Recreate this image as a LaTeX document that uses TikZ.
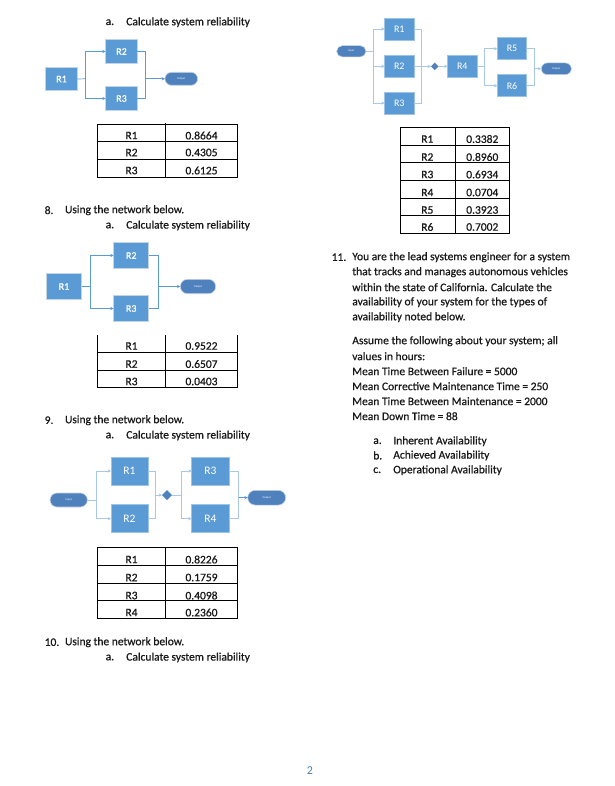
\documentclass[tikz,border=0pt]{standalone}
\usepackage{fontspec}
\setmainfont{Carlito}
\newfontfamily\semifont{Carlito}[FakeBold=0.7]
\usetikzlibrary{arrows.meta,shapes.geometric,shapes.misc}
\definecolor{blk}{HTML}{5B9BD5}
\definecolor{blkedge}{HTML}{C5D3E6}
\definecolor{pill}{HTML}{4F81BD}
\definecolor{wire}{HTML}{5B9BD5}
\definecolor{palewire}{HTML}{A9C8E6}
\definecolor{pagenum}{HTML}{4A7AAE}
\tikzset{
  block/.style={draw=blkedge,line width=0.7pt,fill=blk,text=white,inner sep=0pt,outer sep=0pt,font=\semifont\fontsize{10}{12}\selectfont},
  blockb/.style={block,draw=blk!60!white,font=\fontsize{11.5}{13}\selectfont},
  blockc/.style={block,draw=blk!60!white,font=\fontsize{10}{12}\selectfont},
  terminal/.style={rounded rectangle,draw=blkedge,line width=0.6pt,fill=pill,text=white,inner sep=0pt,outer sep=0pt,font=\fontsize{2.8}{3}\selectfont},
  junction/.style={diamond,fill=pill,draw=none,inner sep=0pt,outer sep=0pt},
  wirea/.style={draw=wire,line width=0.7pt},
  wireb/.style={draw=palewire,line width=0.8pt},
  tip/.style={-{Stealth[length=3.4pt,width=3.4pt]}},
  body/.style={anchor=west,yshift=-0.5pt,inner sep=0pt,outer sep=0pt,text=black!90,font=\semifont\fontsize{11.5}{13}\selectfont},
  cell/.style={yshift=-0.5pt,inner sep=0pt,outer sep=0pt,text=black!90,font=\semifont\fontsize{11.5}{13}\selectfont},
  grid/.style={draw=black,line width=0.8pt},
}
\begin{document}
\begin{tikzpicture}[x=1pt,y=-1pt]
\useasboundingbox (0,0) rectangle (614,786);
% Header text
\node[body] (a0l) at (105.7,21.7) {a.};
\node[body] (a0) at (126.3,21.7) {Calculate system reliability};
% Diagram 1
\node[block,minimum width=31.6pt,minimum height=22.6pt] (d1r1) at (61.5,79) {R1};
\node[block,minimum width=31.6pt,minimum height=23.6pt] (d1r2) at (121.5,51.5) {R2};
\node[block,minimum width=31.6pt,minimum height=23.6pt] (d1r3) at (121.5,98.5) {R3};
\node[terminal,minimum width=32.7pt,minimum height=13pt] (d1o) at (181.3,78.8) {Output};
\coordinate (d1j) at (85,78.8);
\coordinate (d1k) at (145.3,78.8);
\draw[wirea] (d1r1.east) -- (d1j);
\draw[wirea,tip] (d1j) |- (d1r2.west);
\draw[wirea,tip] (d1j) |- (d1r3.west);
\draw[wirea] (d1r2.east) -| (d1k);
\draw[wirea] (d1r3.east) -| (d1k);
\draw[wirea,tip] (d1k) -- (d1o.west);
% Table 1
\draw[grid] (97.7,124) rectangle (237.3,177.3);
\draw[grid] (165.7,123) -- (165.7,177.3);
\draw[grid] (97.7,141.3) -- (237.3,141.3) (97.7,159.7) -- (237.3,159.7);
\node[cell] (t1a) at (131.5,135) {R1}; \node[cell] (t1b) at (201.5,135) {0.8664};
\node[cell] (t1c) at (131.5,152) {R2}; \node[cell] (t1d) at (201.5,152) {0.4305};
\node[cell] (t1e) at (131.5,170) {R3}; \node[cell] (t1f) at (201.5,170) {0.6125};
% Q8
\node[body] (q8n) at (44.7,209.7) {8.};
\node[body] (q8) at (65,209.7) {Using the network below.};
\node[body] (a8l) at (105.7,225) {a.};
\node[body] (a8) at (126.3,225) {Calculate system reliability};
\node[block,minimum width=35.4pt,minimum height=25.6pt] (d2r1) at (64,286.5) {R1};
\node[block,minimum width=35pt,minimum height=25.6pt] (d2r2) at (131.2,255.5) {R2};
\node[block,minimum width=35pt,minimum height=25.6pt] (d2r3) at (131.2,308.5) {R3};
\node[terminal,minimum width=35.4pt,minimum height=14.4pt] (d2o) at (198,286.5) {Output};
\coordinate (d2j) at (90.3,286.5);
\coordinate (d2k) at (158,286.5);
\draw[wirea] (d2r1.east) -- (d2j);
\draw[wirea,tip] (d2j) |- (d2r2.west);
\draw[wirea,tip] (d2j) |- (d2r3.west);
\draw[wirea] (d2r2.east) -| (d2k);
\draw[wirea] (d2r3.east) -| (d2k);
\draw[wirea,tip] (d2k) -- (d2o.west);
% Table 2
\draw[grid] (97.7,335) -- (97.7,388.3) (165.7,335) -- (165.7,388.3) (237.3,335) -- (237.3,388.3);
\draw[grid] (97.7,352.7) -- (237.3,352.7) (97.7,370.7) -- (237.3,370.7) (97.7,387.7) -- (237.3,387.7);
\node[cell] (t2a) at (131.5,345.5) {R1}; \node[cell] (t2b) at (201.5,345.5) {0.9522};
\node[cell] (t2c) at (131.5,363.5) {R2}; \node[cell] (t2d) at (201.5,363.5) {0.6507};
\node[cell] (t2e) at (131.5,381) {R3}; \node[cell] (t2f) at (201.5,381) {0.0403};
% Q9
\node[body] (q9n) at (44.7,419.7) {9.};
\node[body] (q9) at (65,419.7) {Using the network below.};
\node[body] (a9l) at (105.7,435) {a.};
\node[body] (a9) at (126.3,435) {Calculate system reliability};
\node[terminal,minimum width=37.3pt,minimum height=14pt] (d3i) at (68.7,500) {Input};
\node[blockb,minimum width=37pt,minimum height=28pt] (d3r1) at (129.5,471) {R1};
\node[blockb,minimum width=37pt,minimum height=28pt] (d3r2) at (129.5,518.7) {R2};
\node[blockb,minimum width=37.3pt,minimum height=28pt] (d3r3) at (210.3,471) {R3};
\node[blockb,minimum width=37.3pt,minimum height=28pt] (d3r4) at (210.3,518.7) {R4};
\node[junction,minimum width=10pt,minimum height=10pt] (d3d) at (167,495) {};
\node[terminal,minimum width=38pt,minimum height=14.7pt] (d3o) at (266.7,497.7) {Output};
\coordinate (d3a) at (96.3,500);
\coordinate (d3b) at (155.3,495);
\coordinate (d3c) at (181,495);
\coordinate (d3e) at (238.7,497.7);
\draw[wireb] (d3i.east) -- (d3a);
\draw[wireb,tip] (d3a) |- (d3r1.west);
\draw[wireb,tip] (d3a) |- (d3r2.west);
\draw[wireb] (d3r1.east) -| (d3b);
\draw[wireb] (d3r2.east) -| (d3b);
\draw[wireb,tip] (d3b) -- (d3d.west);
\draw[wireb] (d3d.east) -- (d3c);
\draw[wireb,tip] (d3c) |- (d3r3.west);
\draw[wireb,tip] (d3c) |- (d3r4.west);
\draw[wireb] (d3r3.east) -| (d3e);
\draw[wireb] (d3r4.east) -| (d3e);
\draw[wirea,tip] (d3e) -- (d3o.west);
% Table 3
\draw[grid] (97.7,547.3) rectangle (237.3,618.3);
\draw[grid] (165.7,547.3) -- (165.7,618.3);
\draw[grid] (97.7,565.3) -- (237.3,565.3) (97.7,583.3) -- (237.3,583.3) (97.7,600.7) -- (237.3,600.7);
\node[cell] (t3a) at (131.5,559) {R1}; \node[cell] (t3b) at (201.5,559) {0.8226};
\node[cell] (t3c) at (131.5,577) {R2}; \node[cell] (t3d) at (201.5,577) {0.1759};
\node[cell] (t3e) at (131.5,595) {R3}; \node[cell] (t3f) at (201.5,595) {0.4098};
\node[cell] (t3g) at (131.5,612) {R4}; \node[cell] (t3h) at (201.5,612) {0.2360};
% Q10
\node[body] (q10n) at (44.7,641.7) {10.};
\node[body] (q10) at (65,641.7) {Using the network below.};
\node[body] (a10l) at (105.7,657) {a.};
\node[body] (a10) at (126.3,657) {Calculate system reliability};
% Diagram 4
\node[terminal,minimum width=29.3pt,minimum height=11.3pt] (d4i) at (351.3,51.3) {Input};
\node[blockc,minimum width=29.3pt,minimum height=22pt] (d4r1) at (399.3,29) {R1};
\node[blockc,minimum width=29.3pt,minimum height=22pt] (d4r2) at (399.3,66.3) {R2};
\node[blockc,minimum width=29.3pt,minimum height=22pt] (d4r3) at (399.3,103) {R3};
\node[junction,minimum width=7.5pt,minimum height=7.5pt] (d4d) at (434.7,66.3) {};
\node[blockc,minimum width=29.3pt,minimum height=22pt] (d4r4) at (462.3,66.3) {R4};
\node[blockc,minimum width=29.3pt,minimum height=22pt] (d4r5) at (512,48.7) {R5};
\node[blockc,minimum width=29.3pt,minimum height=22pt] (d4r6) at (512,85.7) {R6};
\node[terminal,minimum width=30pt,minimum height=11.7pt] (d4o) at (556.3,68.8) {Output};
\coordinate (d4a) at (373.3,51.3);
\coordinate (d4b) at (421.3,66.3);
\coordinate (d4c) at (484.3,66.3);
\coordinate (d4e) at (534.3,68.8);
\draw[wireb] (d4i.east) -- (d4a);
\draw[wireb,tip] (d4a) |- (d4r1.west);
\draw[wireb,tip] (d4a) |- (d4r2.west);
\draw[wireb,tip] (d4a) |- (d4r3.west);
\draw[wireb] (d4r1.east) -| (d4b);
\draw[wireb] (d4r3.east) -| (d4b);
\draw[wireb,tip] (d4r2.east) -- (d4d.west);
\draw[wireb,tip] (d4d.east) -- (d4r4.west);
\draw[wireb] (d4r4.east) -- (d4c);
\draw[wireb,tip] (d4c) |- (d4r5.west);
\draw[wireb,tip] (d4c) |- (d4r6.west);
\draw[wireb] (d4r5.east) -| (d4e);
\draw[wireb] (d4r6.east) -| (d4e);
\draw[wireb,tip] (d4e) -- (d4o.west);
% Table 4
\draw[grid] (400.7,127.3) rectangle (509.3,233.3);
\draw[grid] (455.7,127.3) -- (455.7,233.3);
\draw[grid] (400.7,145) -- (509.3,145) (400.7,162.3) -- (509.3,162.3) (400.7,180.3) -- (509.3,180.3) (400.7,198.3) -- (509.3,198.3) (400.7,215.7) -- (509.3,215.7);
\node[cell] (t4a) at (427.3,138.5) {R1}; \node[cell] (t4b) at (482.3,138.5) {0.3382};
\node[cell] (t4c) at (427.3,156.5) {R2}; \node[cell] (t4d) at (482.3,156.5) {0.8960};
\node[cell] (t4e) at (427.3,174) {R3}; \node[cell] (t4f) at (482.3,174) {0.6934};
\node[cell] (t4g) at (427.3,192) {R4}; \node[cell] (t4h) at (482.3,192) {0.0704};
\node[cell] (t4i) at (427.3,209.5) {R5}; \node[cell] (t4j) at (482.3,209.5) {0.3923};
\node[cell] (t4k) at (427.3,226.5) {R6}; \node[cell] (t4l) at (482.3,226.5) {0.7002};
% Q11
\node[body] (q11n) at (331.7,256.7) {11.};
\node[body] (q11a) at (352.3,256.7) {You are the lead systems engineer for a system};
\node[body] (q11b) at (352.3,271.7) {that tracks and manages autonomous vehicles};
\node[body] (q11c) at (352.3,286.7) {within the state of California. Calculate the};
\node[body] (q11d) at (352.3,301.7) {availability of your system for the types of};
\node[body] (q11e) at (352.3,316.7) {availability noted below.};
\node[body] (q11f) at (352.3,340.7) {Assume the following about your system; all};
\node[body] (q11g) at (352.3,355.7) {values in hours:};
\node[body] (q11h) at (352.3,370.7) {Mean Time Between Failure = 5000};
\node[body] (q11i) at (352.3,385.7) {Mean Corrective Maintenance Time = 250};
\node[body] (q11j) at (352.3,400.7) {Mean Time Between Maintenance = 2000};
\node[body] (q11k) at (352.3,415.7) {Mean Down Time = 88};
\node[body] (q11l1) at (373.3,440.7) {a.};
\node[body] (q11l) at (393.3,440.7) {Inherent Availability};
\node[body] (q11m1) at (373.3,455) {b.};
\node[body] (q11m) at (393.3,455) {Achieved Availability};
\node[body] (q11n1) at (373.3,469.7) {c.};
\node[body] (q11o) at (393.3,469.7) {Operational Availability};
% Page number
\node[inner sep=0pt,text=pagenum,font=\fontsize{12}{14}\selectfont] (pg) at (310,771) {2};
\end{tikzpicture}
\end{document}
